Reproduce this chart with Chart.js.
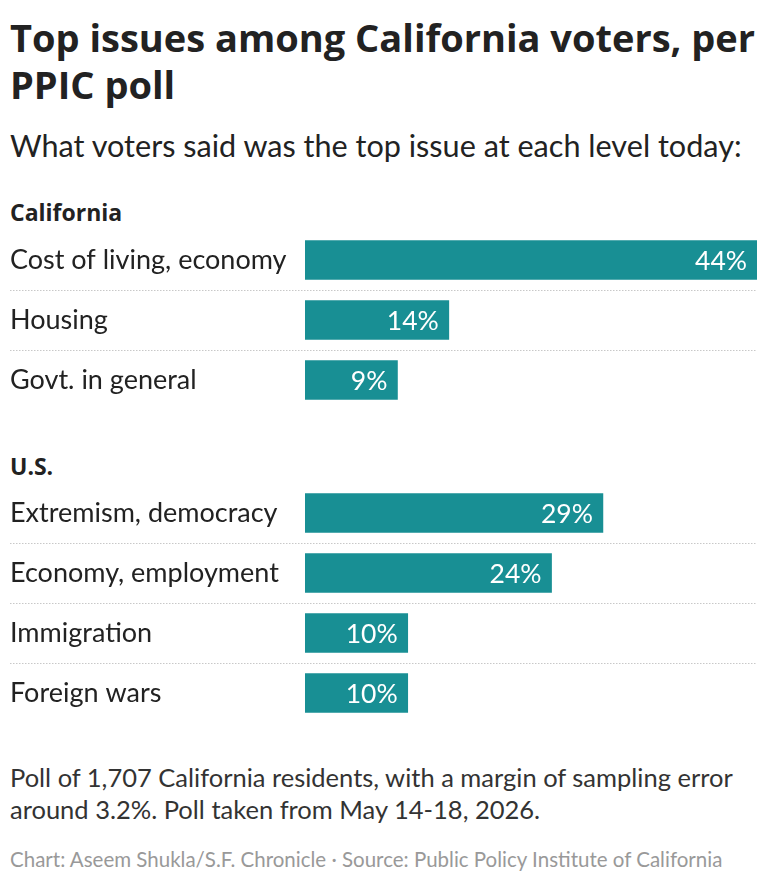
<!DOCTYPE html>
<html lang="en">
    <head>
        <meta charset="UTF-8">
        <title>Top issues among California voters</title>
        <script src="https://cdn.jsdelivr.net/npm/chart.js"></script>
        <style>
            body { margin: 0; background: #fff; font-family: Lato, sans-serif; color: #222; }
            .wrap { position: relative; width: 768px; height: 886px; overflow: hidden; }
            .abs { position: absolute; left: 10px; margin: 0; white-space: nowrap; }
            h1 { font-family: 'Open Sans', sans-serif; font-size: 38px; line-height: 47px; font-weight: 700; top: 14px; color: #222; }
            .sub { font-size: 30.6px; top: 126.5px; color: #222; }
            .group { font-family: 'Open Sans', sans-serif; font-size: 23px; font-weight: 700; }
            .note { font-size: 25.5px; line-height: 32px; top: 761px; color: #333; }
            .credit { font-size: 20.5px; top: 847px; color: #999; }
            .box { position: absolute; left: 10px; width: 747px; }
        </style>
    </head>
    <body>
        <div class="wrap">
            <h1 class="abs">Top issues among California voters, per<br>PPIC poll</h1>
            <p class="abs sub">What voters said was the top issue at each level today:</p>

            <p class="abs group" style="top: 196px;">California</p>
            <div class="box" style="top: 229.5px; height: 180px;"><canvas id="caChart"></canvas></div>

            <p class="abs group" style="top: 450px;">U.S.</p>
            <div class="box" style="top: 482.5px; height: 240px;"><canvas id="usChart"></canvas></div>

            <p class="abs note">Poll of 1,707 California residents, with a margin of sampling error<br>around 3.2%. Poll taken from May 14-18, 2026.</p>
            <p class="abs credit">Chart: Aseem Shukla/S.F. Chronicle · Source: Public Policy Institute of California</p>
        </div>

        <script>
            const caIssues = ['Cost of living, economy', 'Housing', 'Govt. in general'];
            const caValues = [44, 14, 9];

            const usIssues = ['Extremism, democracy', 'Economy, employment', 'Immigration', 'Foreign wars'];
            const usValues = [29, 24, 10, 10];

            const maxValue = 44;
            const barColor = '#188f94';

            // dotted separators between rows + value labels inside the bars
            const rowDecor = {
                id: 'rowDecor',
                afterDatasetsDraw(chart) {
                    const ctx = chart.ctx;
                    const y = chart.scales.y;
                    const n = chart.data.labels.length;
                    ctx.save();
                    ctx.fillStyle = '#c8c8c8';
                    for (let i = 0; i < n - 1; i++) {
                        const yy = Math.round((y.getPixelForValue(i) + y.getPixelForValue(i + 1)) / 2);
                        for (let x = 0; x < chart.chartArea.right; x += 3) {
                            ctx.fillRect(x, yy, 1.5, 1);
                        }
                    }
                    const meta = chart.getDatasetMeta(0);
                    ctx.fillStyle = '#fff';
                    ctx.font = '26.5px Lato, sans-serif';
                    ctx.textAlign = 'right';
                    ctx.textBaseline = 'middle';
                    meta.data.forEach((bar, i) => {
                        ctx.fillText(chart.data.datasets[0].data[i] + '%', bar.x - 10, bar.y + 1);
                    });
                    ctx.restore();
                }
            };

            function makeChart(id, labels, values) {
                return new Chart(document.getElementById(id), {
                    type: 'bar',
                    data: {
                        labels: labels,
                        datasets: [{
                            data: values,
                            backgroundColor: barColor,
                            barThickness: 39
                        }]
                    },
                    options: {
                        indexAxis: 'y',
                        responsive: true,
                        maintainAspectRatio: false,
                        animation: false,
                        layout: { padding: 0 },
                        scales: {
                            x: { display: false, min: 0, max: maxValue },
                            y: {
                                grid: { display: false },
                                border: { display: false },
                                afterFit(scale) {
                                    scale.width = 295;
                                    scale.paddingTop = 0;
                                    scale.paddingBottom = 0;
                                },
                                ticks: {
                                    crossAlign: 'far',
                                    color: '#222',
                                    font: { family: 'Lato', size: 27 }
                                }
                            }
                        },
                        plugins: {
                            legend: { display: false },
                            tooltip: { enabled: false }
                        }
                    },
                    plugins: [rowDecor]
                });
            }

            makeChart('caChart', caIssues, caValues);
            makeChart('usChart', usIssues, usValues);
        </script>
    </body>
</html>
